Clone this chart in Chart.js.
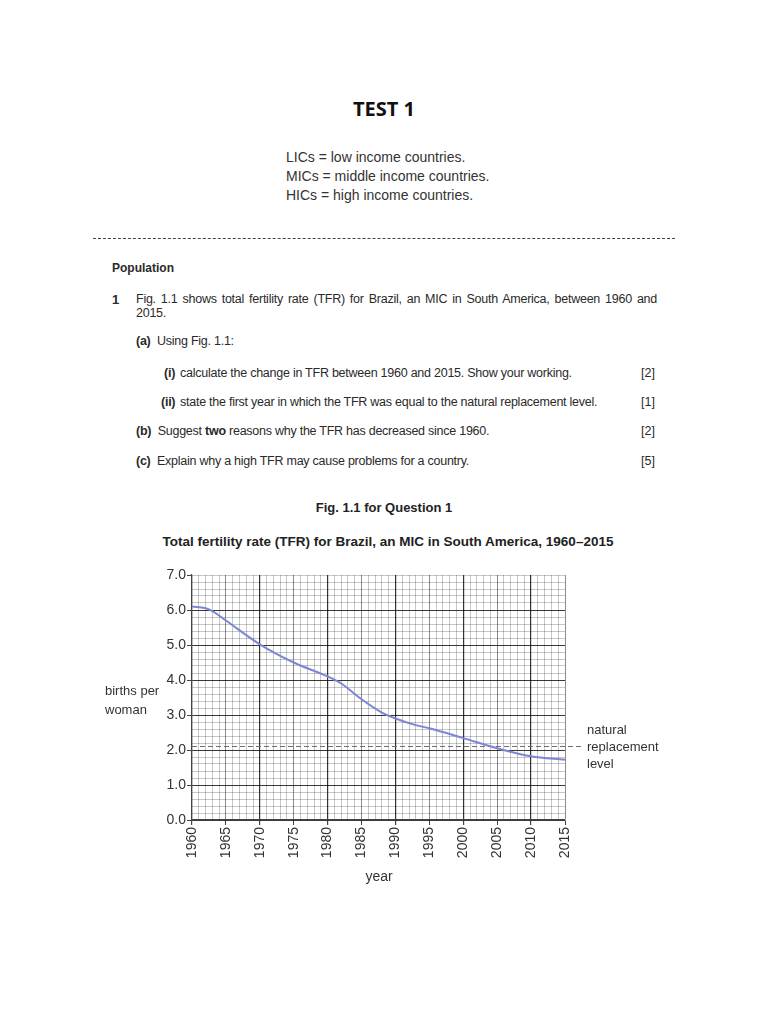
<!DOCTYPE html>
<html>
<head>
<meta charset="utf-8">
<script src="https://cdn.jsdelivr.net/npm/chart.js@4.4.1/dist/chart.umd.min.js"></script>
<style>
    body { margin: 0; background: #fff; font-family: "Liberation Sans", Arial, sans-serif; color: #2a2a2a; }
    .page { position: relative; width: 768px; height: 1024px; }
    .t { position: absolute; font-size: 13px; line-height: 15px; white-space: nowrap; }
    .q { font-size: 12.5px; letter-spacing: -0.25px; }
    .b { font-weight: bold; }
    .mark { position: absolute; left: 641px; font-size: 12.5px; }
    #titulo { position: absolute; top: 95px; left: 0; width: 768px; text-align: center; font-family: "Open Sans", "DejaVu Sans", sans-serif; font-weight: bold; font-size: 20px; color: #111; }
    #separador { position: absolute; top: 238px; left: 93px; width: 582px; border-top: 1px dashed #444; }
    #dvCanvas { position: absolute; left: 0; top: 555px; width: 768px; height: 345px; }
</style>
</head>
<body>
<div class="page">
    <div id="titulo">TEST 1</div>
    <div class="t" style="left:286px;top:148px;font-size:14px;line-height:19px;color:#333">LICs = low income countries.<br>MICs = middle income countries.<br>HICs = high income countries.</div>
    <div id="separador"></div>

    <div class="t b" style="left:112px;top:261px;font-size:12px">Population</div>
    <div class="t b" style="left:112px;top:292px">1</div>
    <div class="t q" style="left:136px;top:292px;width:521px;text-align:justify;text-align-last:justify">Fig. 1.1 shows total fertility rate (TFR) for Brazil, an MIC in South America, between 1960 and</div>
    <div class="t q" style="left:136px;top:306px">2015.</div>

    <div class="t q" style="left:136px;top:334px"><span class="b">(a)</span>&nbsp; Using Fig. 1.1:</div>

    <div class="t q b" style="left:164px;top:366px">(i)</div>
    <div class="t q" style="left:180px;top:366px">calculate the change in TFR between 1960 and 2015. Show your working.</div>
    <div class="mark t" style="top:366px">[2]</div>

    <div class="t q b" style="left:161px;top:395px">(ii)</div>
    <div class="t q" style="left:180px;top:395px">state the first year in which the TFR was equal to the natural replacement level.</div>
    <div class="mark t" style="top:395px">[1]</div>

    <div class="t q" style="left:136px;top:424px"><span class="b">(b)</span>&nbsp; Suggest <span class="b">two</span> reasons why the TFR has decreased since 1960.</div>
    <div class="mark t" style="top:424px">[2]</div>

    <div class="t q" style="left:136px;top:454px"><span class="b">(c)</span>&nbsp; Explain why a high TFR may cause problems for a country.</div>
    <div class="mark t" style="top:454px">[5]</div>

    <div class="t b" style="left:0;width:768px;text-align:center;top:500px;color:#222">Fig. 1.1 for Question 1</div>
    <div class="t b" style="left:0;width:776px;text-align:center;top:534px;color:#222;font-size:13.5px">Total fertility rate (TFR) for Brazil, an MIC in South America, 1960–2015</div>

    <div id="dvCanvas"><canvas id="canvasLineas"></canvas></div>

    <div class="t" style="left:105px;top:681px;line-height:19px;color:#333">births per<br>woman</div>
    <div class="t" style="left:587px;top:721px;line-height:17px;color:#333">natural<br>replacement<br>level</div>
    <div class="t" style="left:0;width:758px;text-align:center;top:869px;color:#333;font-size:14px">year</div>
</div>

<script>
// valores
var anios = [1960, 1962, 1963, 1965, 1970, 1975, 1980, 1982, 1985, 1988, 1990, 1993, 1995, 2000, 2005, 2010, 2015];
var tfr = [6.1, 6.05, 5.97, 5.7, 5.02, 4.5, 4.1, 3.9, 3.45, 3.07, 2.9, 2.71, 2.62, 2.34, 2.05, 1.82, 1.72];
var nivelReemplazo = 2.1;
var finReemplazo = 2017.5; // la linea sale un poco fuera del grafico
var etiquetasAnio = [1960, 1965, 1970, 1975, 1980, 1985, 1990, 1995, 2000, 2005, 2010, 2015];

var puntos = anios.map(function (a, i) { return { x: a, y: tfr[i] }; });

function esEntero(v) {
    return Math.abs(v - Math.round(v)) < 1e-6;
}

var ctx = document.getElementById("canvasLineas").getContext("2d");
window.myLine = new Chart(ctx, {
    type: 'line',
    data: {
        datasets: [{
            label: 'TFR',
            data: puntos,
            borderColor: '#7c86d4',
            borderWidth: 2,
            pointRadius: 0,
            cubicInterpolationMode: 'monotone'
        }, {
            label: 'natural replacement level',
            data: [{ x: anios[0], y: nivelReemplazo }, { x: finReemplazo, y: nivelReemplazo }],
            borderColor: '#6f6f6f',
            borderWidth: 1.2,
            borderDash: [5, 3],
            pointRadius: 0,
            clip: false
        }]
    },
    options: {
        responsive: true,
        maintainAspectRatio: false,
        animation: false,
        layout: { padding: { left: 152, right: 203, top: 20, bottom: 35 } },
        plugins: {
            legend: { display: false },
            title: { display: false },
            tooltip: { enabled: false }
        },
        scales: {
            x: {
                type: 'linear',
                min: 1960,
                max: 2015,
                afterFit: function (scale) { scale.height = 45; },
                border: { color: '#444', width: 1.2 },
                grid: {
                    tickLength: 5,
                    color: function (c) {
                        var v = c.tick.value;
                        if (v % 10 === 0) return 'rgba(0,0,0,0.8)';
                        if (v % 5 === 0) return 'rgba(0,0,0,0.45)';
                        return 'rgba(0,0,0,0.22)';
                    },
                    lineWidth: function (c) {
                        return c.tick.value % 10 === 0 ? 1.2 : 1;
                    },
                    tickColor: function (c) {
                        return c.tick.value % 5 === 0 ? '#444' : 'rgba(0,0,0,0)';
                    }
                },
                ticks: {
                    stepSize: 1,
                    autoSkip: false,
                    minRotation: 90,
                    maxRotation: 90,
                    padding: 2,
                    color: '#333',
                    font: { family: '"Liberation Sans", Arial', size: 14 },
                    callback: function (value) {
                        return etiquetasAnio.indexOf(value) >= 0 ? String(value) : '';
                    }
                }
            },
            y: {
                min: 0,
                max: 7,
                afterFit: function (scale) { scale.width = 40; },
                border: { color: '#444', width: 1.2 },
                grid: {
                    tickLength: 5,
                    color: function (c) {
                        var v = c.tick.value;
                        if (v !== 7 && esEntero(v)) return 'rgba(0,0,0,0.78)';
                        return 'rgba(0,0,0,0.22)';
                    },
                    tickColor: function (c) {
                        return esEntero(c.tick.value) ? '#444' : 'rgba(0,0,0,0)';
                    }
                },
                ticks: {
                    stepSize: 0.2,
                    autoSkip: false,
                    padding: 1,
                    color: '#333',
                    font: { family: '"Liberation Sans", Arial', size: 14 },
                    callback: function (value) {
                        return esEntero(value) ? Math.round(value).toFixed(1) : '';
                    }
                }
            }
        }
    }
});
</script>
</body>
</html>
